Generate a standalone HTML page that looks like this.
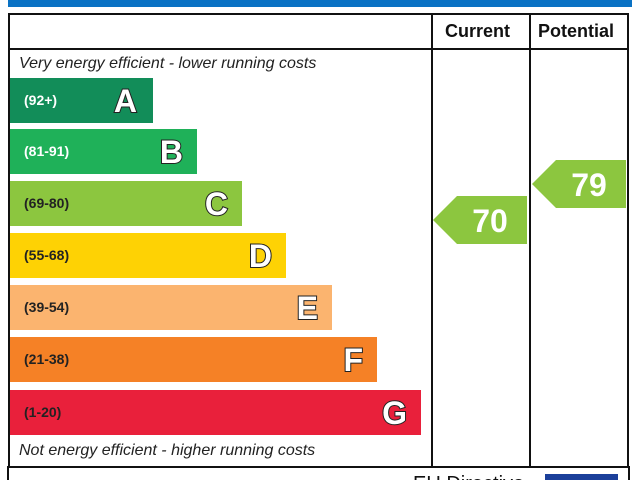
<!DOCTYPE html>
<html><head><style>
body{margin:0;width:640px;height:480px;overflow:hidden;background:#fff;font-family:"Liberation Sans",sans-serif;position:relative}
div{position:absolute;box-sizing:border-box}
.bar{left:10px;height:45px}
.rng{position:absolute;left:14px;top:14px;font-size:14px;font-weight:bold}
.let{position:absolute;right:14px;top:5px;font-size:32px;font-weight:bold;color:#fff;-webkit-text-stroke:2px #222;paint-order:stroke fill}
.it{font-style:italic;font-size:16px;color:#222;left:19px}
</style></head><body>
<div style="left:8px;top:0;width:624px;height:7px;background:#0a72c4"></div>
<div style="left:8px;top:13px;width:621px;height:455px;border:2px solid #111"></div>
<div style="left:8px;top:48px;width:621px;height:2px;background:#111"></div>
<div style="left:431px;top:13px;width:2px;height:455px;background:#111"></div>
<div style="left:529px;top:13px;width:2px;height:455px;background:#111"></div>
<div style="left:445px;top:21px;font-size:18px;font-weight:bold;color:#111">Current</div>
<div style="left:538px;top:21px;font-size:18px;font-weight:bold;color:#111">Potential</div>
<div class="it" style="top:55px">Very energy efficient - lower running costs</div>
<div class="it" style="top:442px">Not energy efficient - higher running costs</div>
<div class="bar" style="top:78px;width:143px;background:#128d59"><span class="rng" style="color:#fff">(92+)</span><span class="let" style="right:16px">A</span></div>
<div class="bar" style="top:129px;width:187px;background:#1fb159"><span class="rng" style="color:#fff">(81-91)</span><span class="let">B</span></div>
<div class="bar" style="top:181px;width:232px;background:#8cc63f"><span class="rng" style="color:#222">(69-80)</span><span class="let">C</span></div>
<div class="bar" style="top:233px;width:276px;background:#fed204"><span class="rng" style="color:#222">(55-68)</span><span class="let">D</span></div>
<div class="bar" style="top:285px;width:322px;background:#fbb46f"><span class="rng" style="color:#222">(39-54)</span><span class="let">E</span></div>
<div class="bar" style="top:337px;width:367px;background:#f58126"><span class="rng" style="color:#222">(21-38)</span><span class="let">F</span></div>
<div class="bar" style="top:390px;width:411px;background:#e9203b"><span class="rng" style="color:#222">(1-20)</span><span class="let">G</span></div>
<svg style="position:absolute;left:0;top:0" width="640" height="480">
<polygon points="433,220 457,196 527,196 527,244 457,244" fill="#8cc63f"/>
<polygon points="532,184 556,160 626,160 626,208 556,208" fill="#8cc63f"/>
<text x="490" y="232" font-family="Liberation Sans" font-size="32" font-weight="bold" fill="#fff" text-anchor="middle">70</text>
<text x="589" y="196" font-family="Liberation Sans" font-size="32" font-weight="bold" fill="#fff" text-anchor="middle">79</text>
<rect x="8" y="467" width="621" height="20" fill="none" stroke="#111" stroke-width="2"/>
<text x="413" y="490" font-family="Liberation Sans" font-size="20" fill="#111">EU Directive</text>
<rect x="545" y="474" width="73" height="10" fill="#1b3f9a"/>
</svg>
</body></html>
